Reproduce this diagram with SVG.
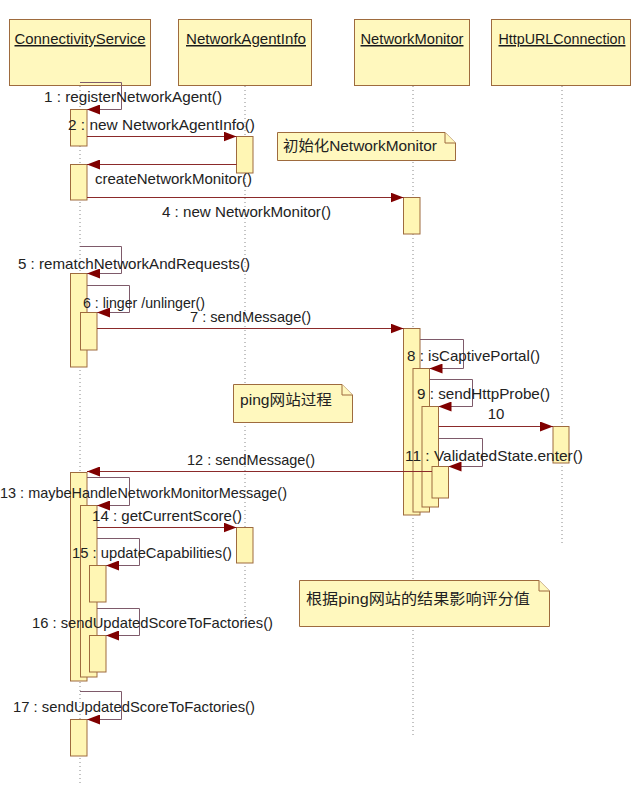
<svg xmlns="http://www.w3.org/2000/svg" width="640" height="785" viewBox="0 0 640 785">
<defs>
<marker id="ah" markerUnits="userSpaceOnUse" markerWidth="13" markerHeight="10" refX="13" refY="5" orient="auto">
<path d="M0,0 L13,5 L0,10 Z" fill="#800000"/>
</marker>
<style>
.hdr{fill:#FFF8BE;stroke:#9E6B3E;stroke-width:1}
.act{fill:#FFF6B4;stroke:#9E6B3E;stroke-width:1}
.note{fill:#FFF8BE;stroke:#9E6B3E;stroke-width:1}
.life{stroke:#888;stroke-width:1;stroke-dasharray:1,3;fill:none}
.msg{stroke:#8B2A2A;stroke-width:1;fill:none;marker-end:url(#ah)}
.loop{stroke:#7E5A6A;stroke-width:1;fill:none;marker-end:url(#ah)}
text{font-family:"Liberation Sans",Arial,"Noto Sans CJK SC",sans-serif;font-size:15px;fill:#222}
.ht{text-decoration:underline;text-anchor:middle;fill:#1a1a1a}
</style>
</defs>
<rect width="640" height="785" fill="#fff"/>

<g id="lifelines">
<line class="life" x1="80" y1="86" x2="80" y2="785"/>
<line class="life" x1="245" y1="86" x2="245" y2="623"/>
<line class="life" x1="413" y1="86" x2="413" y2="735"/>
<line class="life" x1="562" y1="86" x2="562" y2="545"/>
</g>

<g id="ConnectivityService">
<rect class="hdr" x="9.5" y="19.5" width="141" height="66"/>
<text class="ht" x="80" y="44" textLength="131" lengthAdjust="spacingAndGlyphs">ConnectivityService</text>
<rect class="act" x="70.5" y="109.5" width="16.5" height="36.5"/>
<rect class="act" x="70.5" y="164.5" width="16.5" height="35.5"/>
<rect class="act" x="70.5" y="273.5" width="16.5" height="93.5"/>
<rect class="act" x="80.5" y="312.5" width="16.5" height="37.5"/>
<rect class="act" x="70.5" y="472.5" width="16.5" height="208.5"/>
<rect class="act" x="80.5" y="505.5" width="16.5" height="171.5"/>
<rect class="act" x="89.5" y="565.5" width="16.5" height="36.5"/>
<rect class="act" x="89.5" y="635.5" width="16.5" height="36.5"/>
<rect class="act" x="70.5" y="719.5" width="16.5" height="36.5"/>
</g>

<g id="NetworkAgentInfo">
<rect class="hdr" x="178.5" y="19.5" width="133" height="66"/>
<text class="ht" x="246" y="44" textLength="120" lengthAdjust="spacingAndGlyphs">NetworkAgentInfo</text>
<rect class="act" x="236.5" y="136.5" width="16.5" height="36.5"/>
<rect class="act" x="236.5" y="527.5" width="16.5" height="35.5"/>
</g>

<g id="NetworkMonitor">
<rect class="hdr" x="354.5" y="19.5" width="115" height="66"/>
<text class="ht" x="412" y="44" textLength="103" lengthAdjust="spacingAndGlyphs">NetworkMonitor</text>
<rect class="act" x="403.5" y="197.5" width="16.5" height="36.5"/>
<rect class="act" x="403.5" y="328.5" width="16.5" height="186.5"/>
<rect class="act" x="413" y="368.5" width="16.5" height="143.5"/>
<rect class="act" x="422" y="406.5" width="16.5" height="100.5"/>
<rect class="act" x="432" y="466.5" width="16.5" height="31.5"/>
</g>

<g id="HttpURLConnection">
<rect class="hdr" x="491.5" y="19.5" width="139" height="66"/>
<text class="ht" x="562" y="44" textLength="127" lengthAdjust="spacingAndGlyphs">HttpURLConnection</text>
<rect class="act" x="553" y="426.5" width="16" height="36.5"/>
</g>

<g id="note-init">
<path class="note" d="M277.5,132.5 H445 L455.5,143 V160.5 H277.5 Z"/>
<path class="note" d="M445,132.5 V143 H455.5" fill="none"/>
<text x="283" y="151" textLength="154" lengthAdjust="spacingAndGlyphs">初始化NetworkMonitor</text>
</g>

<g id="note-ping">
<path class="note" d="M233.5,384.5 H342 L352.5,395 V422.5 H233.5 Z"/>
<path class="note" d="M342,384.5 V395 H352.5" fill="none"/>
<text x="240" y="405" textLength="92" lengthAdjust="spacingAndGlyphs">ping网站过程</text>
</g>

<g id="note-score">
<path class="note" d="M299.5,580.5 H539 L549.5,591 V626.5 H299.5 Z"/>
<path class="note" d="M539,580.5 V591 H549.5" fill="none"/>
<text x="306" y="604" textLength="224" lengthAdjust="spacingAndGlyphs">根据ping网站的结果影响评分值</text>
</g>

<g id="connectors">
<polyline class="loop" points="80,82.5 121.5,82.5 121.5,109.5 87,109.5"/>
<line class="msg" x1="87" y1="136.5" x2="236.5" y2="136.5"/>
<line class="msg" x1="236.5" y1="164.5" x2="87" y2="164.5"/>
<line class="msg" x1="87" y1="197.5" x2="403.5" y2="197.5"/>
<polyline class="loop" points="80,246.5 121.5,246.5 121.5,273.5 87,273.5"/>
<polyline class="loop" points="87,285.5 129.5,285.5 129.5,312.5 97,312.5"/>
<line class="msg" x1="97" y1="328.5" x2="403.5" y2="328.5"/>
<polyline class="loop" points="420,339.5 463.5,339.5 463.5,368.5 429.5,368.5"/>
<polyline class="loop" points="429.5,379.5 472.5,379.5 472.5,406.5 438.5,406.5"/>
<line class="msg" x1="438.5" y1="426.5" x2="553" y2="426.5"/>
<polyline class="loop" points="438.5,438.5 482.5,438.5 482.5,466.5 448.5,466.5"/>
<line class="msg" x1="432" y1="471.5" x2="87" y2="471.5"/>
<polyline class="loop" points="87,477.5 129.5,477.5 129.5,505.5 97,505.5"/>
<line class="msg" x1="97" y1="527.5" x2="236.5" y2="527.5"/>
<polyline class="loop" points="97,538.5 139.5,538.5 139.5,565.5 106,565.5"/>
<polyline class="loop" points="97,608.5 139.5,608.5 139.5,635.5 106,635.5"/>
<polyline class="loop" points="80,691.5 121.5,691.5 121.5,719.5 87,719.5"/>
</g>

<g id="labels">
<text x="44" y="102" textLength="178" lengthAdjust="spacingAndGlyphs">1 : registerNetworkAgent()</text>
<text x="68" y="130" textLength="187" lengthAdjust="spacingAndGlyphs">2 : new NetworkAgentInfo()</text>
<text x="95" y="184" textLength="157" lengthAdjust="spacingAndGlyphs">createNetworkMonitor()</text>
<text x="162" y="217" textLength="169" lengthAdjust="spacingAndGlyphs">4 : new NetworkMonitor()</text>
<text x="18" y="269" textLength="232" lengthAdjust="spacingAndGlyphs">5 : rematchNetworkAndRequests()</text>
<text x="83" y="308" textLength="122" lengthAdjust="spacingAndGlyphs">6 : linger /unlinger()</text>
<text x="190" y="322" textLength="121" lengthAdjust="spacingAndGlyphs">7 : sendMessage()</text>
<text x="407" y="361" textLength="133" lengthAdjust="spacingAndGlyphs">8 : isCaptivePortal()</text>
<text x="417" y="399" textLength="133" lengthAdjust="spacingAndGlyphs">9 : sendHttpProbe()</text>
<text x="496" y="419" text-anchor="middle">10</text>
<text x="405" y="461" textLength="178" lengthAdjust="spacingAndGlyphs">11 : ValidatedState.enter()</text>
<text x="187" y="465" textLength="128" lengthAdjust="spacingAndGlyphs">12 : sendMessage()</text>
<text x="0" y="498" textLength="287" lengthAdjust="spacingAndGlyphs">13 : maybeHandleNetworkMonitorMessage()</text>
<text x="92" y="521" textLength="150" lengthAdjust="spacingAndGlyphs">14 : getCurrentScore()</text>
<text x="72" y="558" textLength="160" lengthAdjust="spacingAndGlyphs">15 : updateCapabilities()</text>
<text x="32" y="628" textLength="241" lengthAdjust="spacingAndGlyphs">16 : sendUpdatedScoreToFactories()</text>
<text x="13" y="712" textLength="242" lengthAdjust="spacingAndGlyphs">17 : sendUpdatedScoreToFactories()</text>
</g>
</svg>
